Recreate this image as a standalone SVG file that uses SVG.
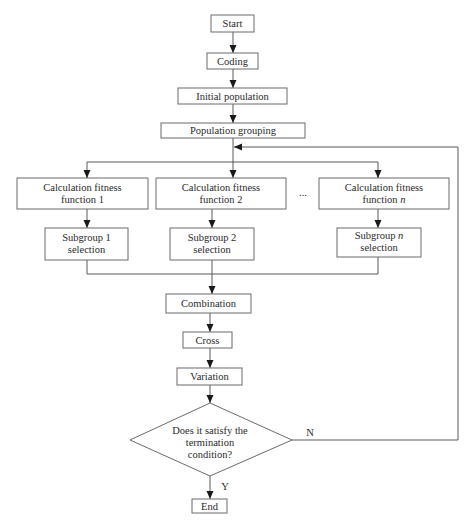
<svg xmlns="http://www.w3.org/2000/svg" width="474" height="530" viewBox="0 0 474 530">
<style>
.box{fill:#fff;stroke:#6a6a6a;stroke-width:1}
.t{font-family:"Liberation Serif","Times New Roman",serif;font-size:10.5px;fill:#2a2a2a;text-anchor:middle}
.c{fill:none;stroke:#5a5a5a;stroke-width:1}
.a{marker-end:url(#ah)}
</style>
<defs>
<marker id="ah" markerWidth="8" markerHeight="8" viewBox="0 0 8 8" refX="8" refY="4" orient="auto" markerUnits="userSpaceOnUse">
<path d="M0,0.5 L8,4 L0,7.5 Z" fill="#1a1a1a"/>
</marker>
</defs>
<rect width="474" height="530" fill="#fff"/>
<g id="connectors">
<line class="c a" x1="233" y1="32" x2="233" y2="53"/>
<line class="c a" x1="233" y1="69" x2="233" y2="88"/>
<line class="c a" x1="233" y1="104" x2="233" y2="123"/>
<line class="c a" x1="233" y1="138" x2="233" y2="178"/>
<polyline class="c" points="87,178 87,162 378,162 378,178"/>
<line class="c a" x1="87" y1="170" x2="87" y2="178"/>
<line class="c a" x1="378" y1="170" x2="378" y2="178"/>
<polyline class="c a" points="292,440 458,440 458,147 234,147"/>
<line class="c a" x1="87" y1="209" x2="87" y2="228"/>
<line class="c a" x1="212" y1="209" x2="212" y2="228"/>
<line class="c a" x1="378" y1="209" x2="378" y2="228"/>
<polyline class="c" points="87,260 87,274 378,274 378,257"/>
<line class="c a" x1="212" y1="260" x2="212" y2="294"/>
<line class="c a" x1="210" y1="313" x2="210" y2="332"/>
<line class="c a" x1="210" y1="348" x2="210" y2="368"/>
<line class="c a" x1="210" y1="385" x2="210" y2="403"/>
<line class="c a" x1="210" y1="476" x2="210" y2="499"/>
<text class="t" x="310" y="436">N</text>
<text class="t" x="225" y="490">Y</text>
</g>
<g id="start"><rect class="box" x="211" y="15" width="43" height="17"/><text class="t" x="232.5" y="27">Start</text></g>
<g id="coding"><rect class="box" x="207" y="53" width="51" height="16"/><text class="t" x="232.5" y="64.5">Coding</text></g>
<g id="initial"><rect class="box" x="178" y="88" width="109" height="16"/><text class="t" x="232.5" y="99.5">Initial population</text></g>
<g id="grouping"><rect class="box" x="161" y="123" width="144" height="15"/><text class="t" x="233" y="134">Population grouping</text></g>
<g id="fit1"><rect class="box" x="17" y="178" width="131" height="31"/><text class="t" x="82.5" y="191">Calculation fitness</text><text class="t" x="82.5" y="203">function 1</text></g>
<g id="fit2"><rect class="box" x="156" y="178" width="130" height="31"/><text class="t" x="221" y="191">Calculation fitness</text><text class="t" x="221" y="203">function 2</text></g>
<g id="dots"><text class="t" x="303" y="196">...</text></g>
<g id="fitn"><rect class="box" x="319" y="178" width="130" height="31"/><text class="t" x="384" y="191">Calculation fitness</text><text class="t" x="384" y="203">function <tspan font-style="italic">n</tspan></text></g>
<g id="sub1"><rect class="box" x="45" y="228" width="83" height="32"/><text class="t" x="86.5" y="241">Subgroup 1</text><text class="t" x="86.5" y="253">selection</text></g>
<g id="sub2"><rect class="box" x="170" y="228" width="84" height="32"/><text class="t" x="212" y="241">Subgroup 2</text><text class="t" x="212" y="253">selection</text></g>
<g id="subn"><rect class="box" x="337" y="228" width="84" height="29"/><text class="t" x="379" y="239">Subgroup <tspan font-style="italic">n</tspan></text><text class="t" x="379" y="251">selection</text></g>
<g id="combination"><rect class="box" x="166" y="294" width="85" height="19"/><text class="t" x="208.5" y="307">Combination</text></g>
<g id="cross"><rect class="box" x="183" y="332" width="49" height="16"/><text class="t" x="207.5" y="343.5">Cross</text></g>
<g id="variation"><rect class="box" x="177" y="368" width="65" height="17"/><text class="t" x="209.5" y="380">Variation</text></g>
<g id="decision"><polygon class="box" points="210,403 292,440 210,476 130,440"/><text class="t" x="210" y="434">Does it satisfy the</text><text class="t" x="210" y="446">termination</text><text class="t" x="210" y="458">condition?</text></g>
<g id="end"><rect class="box" x="192" y="499" width="35" height="14"/><text class="t" x="209.5" y="509.5">End</text></g>
</svg>
